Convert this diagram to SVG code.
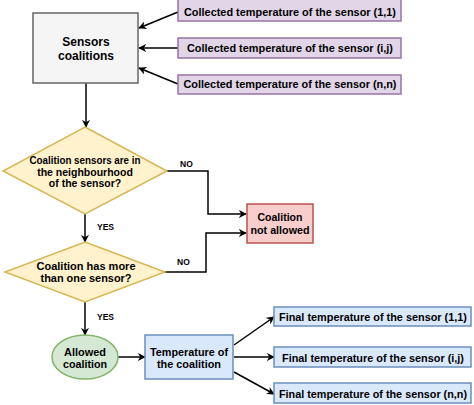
<svg xmlns="http://www.w3.org/2000/svg" width="474" height="405" viewBox="0 0 474 405">
<defs>
<marker id="ah" viewBox="0 0 10 10" refX="9" refY="5" markerWidth="8" markerHeight="8" markerUnits="userSpaceOnUse" orient="auto">
<path d="M0,0 L10,5 L0,10 L3,5 Z" fill="#000"/>
</marker>
</defs>
<style>
text{font-family:"Liberation Sans",Arial,sans-serif;font-weight:bold;fill:#000;text-anchor:middle}
.conn{fill:none;stroke:#000;stroke-width:1.5;marker-end:url(#ah)}
.gray{fill:#f5f5f5;stroke:#666;stroke-width:1.5}
.purple{fill:#e1d5e7;stroke:#9673a6;stroke-width:1.5}
.yellow{fill:#fff2cc;stroke:#d6b656;stroke-width:1.5}
.red{fill:#f8cecc;stroke:#b85450;stroke-width:1.5}
.green{fill:#d5e8d4;stroke:#82b366;stroke-width:1.5}
.blue{fill:#dae8fc;stroke:#6c8ebf;stroke-width:1.5}
.s10{font-size:10.5px}
.s11{font-size:10.5px}
.s12{font-size:12px}
.lbl{font-size:8.5px;text-anchor:start}
</style>
<rect width="474" height="405" fill="#fff"/>
<g id="connectors">
<path class="conn" d="M178,12 L139,28"/>
<path class="conn" d="M178,48 L139,48"/>
<path class="conn" d="M178,84 L139,68"/>
<path class="conn" d="M86,83 L86,127"/>
<path class="conn" d="M167,171 L208,171 L208,214 L246,214"/>
<path class="conn" d="M85,214 L85,242"/>
<path class="conn" d="M165,272 L206,272 L206,233 L246,233"/>
<path class="conn" d="M85,302 L85,335"/>
<path class="conn" d="M118,357 L145,357"/>
<path class="conn" d="M234,345 L274,317"/>
<path class="conn" d="M234,357 L274,357"/>
<path class="conn" d="M234,372 L274,394"/>
<text class="lbl" x="180" y="167">NO</text>
<text class="lbl" x="97" y="230">YES</text>
<text class="lbl" x="177" y="265">NO</text>
<text class="lbl" x="97" y="320">YES</text>
</g>
<g id="sensors">
<rect class="gray" x="33" y="13" width="105" height="70"/>
<text class="s12" x="86" y="46">Sensors</text>
<text class="s12" x="86" y="60">coalitions</text>
</g>
<g id="collected11">
<rect class="purple" x="178" y="-1" width="223" height="22"/>
<text class="s10" x="290" y="16" textLength="212" lengthAdjust="spacingAndGlyphs">Collected temperature of the sensor (1,1)</text>
</g>
<g id="collectedij">
<rect class="purple" x="178" y="38" width="223" height="20"/>
<text class="s10" x="290" y="52" textLength="206" lengthAdjust="spacingAndGlyphs">Collected temperature of the sensor (i,j)</text>
</g>
<g id="collectednn">
<rect class="purple" x="178" y="75" width="223" height="19"/>
<text class="s10" x="290" y="88" textLength="213" lengthAdjust="spacingAndGlyphs">Collected temperature of the sensor (n,n)</text>
</g>
<g id="decision1">
<path class="yellow" d="M85,127 L167,171 L85,214 L3,171 Z"/>
<text class="s10" x="85" y="164" textLength="111" lengthAdjust="spacingAndGlyphs">Coalition sensors are in</text>
<text class="s10" x="85" y="175.5">the neighbourhood</text>
<text class="s10" x="85" y="187">of the sensor?</text>
</g>
<g id="notallowed">
<rect class="red" x="247" y="204" width="66" height="39"/>
<text class="s11" x="280" y="221" font-size="11">Coalition</text>
<text class="s11" x="280" y="234" textLength="59" lengthAdjust="spacingAndGlyphs">not allowed</text>
</g>
<g id="decision2">
<path class="yellow" d="M85,242 L165,272 L85,302 L5,272 Z"/>
<text class="s11" x="86" y="269.5" textLength="99" lengthAdjust="spacingAndGlyphs">Coalition has more</text>
<text class="s11" x="86" y="281.5" textLength="91" lengthAdjust="spacingAndGlyphs">than one sensor?</text>
</g>
<g id="allowed">
<ellipse class="green" cx="85" cy="357" rx="33" ry="22"/>
<text class="s11" x="85" y="356" textLength="42" lengthAdjust="spacingAndGlyphs">Allowed</text>
<text class="s11" x="85" y="368" textLength="44" lengthAdjust="spacingAndGlyphs">coalition</text>
</g>
<g id="tempcoalition">
<rect class="blue" x="145" y="335" width="88" height="44"/>
<text class="s11" x="189" y="356" textLength="78" lengthAdjust="spacingAndGlyphs">Temperature of</text>
<text class="s11" x="189" y="368" textLength="64" lengthAdjust="spacingAndGlyphs">the coalition</text>
</g>
<g id="final11">
<rect class="blue" x="274" y="307" width="197" height="19"/>
<text class="s10" x="373" y="320.5" textLength="188" lengthAdjust="spacingAndGlyphs">Final temperature of the sensor (1,1)</text>
</g>
<g id="finalij">
<rect class="blue" x="274" y="347" width="197" height="20"/>
<text class="s10" x="373" y="362" textLength="182" lengthAdjust="spacingAndGlyphs">Final temperature of the sensor (i,j)</text>
</g>
<g id="finalnn">
<rect class="blue" x="274" y="383" width="197" height="20"/>
<text class="s10" x="373" y="398" textLength="188" lengthAdjust="spacingAndGlyphs">Final temperature of the sensor (n,n)</text>
</g>
</svg>
